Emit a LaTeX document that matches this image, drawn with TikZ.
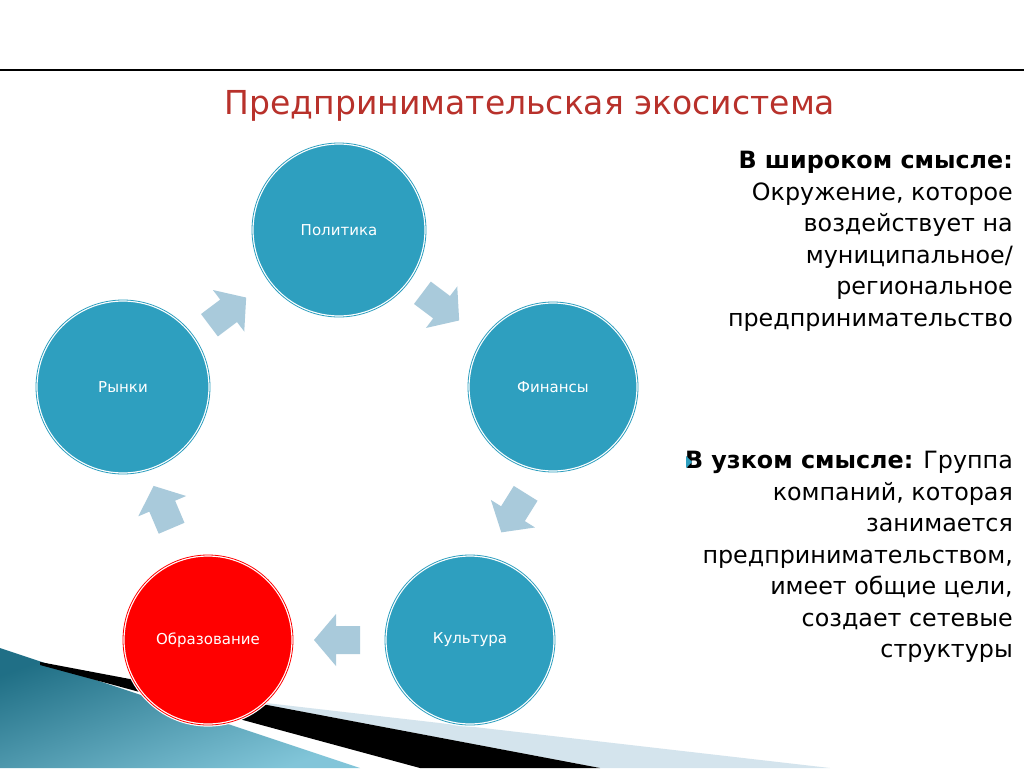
\documentclass[tikz,border=0pt]{standalone}
\usepackage{fontspec}
\setmainfont{DejaVu Sans}
\begin{document}
\begin{tikzpicture}[x=1pt,y=-1pt,
  circ/.style={circle,fill=cTeal,draw=white,line width=1.2pt,double=cTeal,double distance=0.8pt,text=white,font=\fontsize{15}{18}\selectfont,inner sep=0},
  barrow/.style={fill=cArrow,draw=none}]
\definecolor{cTeal}{HTML}{2E9FBF}
\definecolor{cArrow}{HTML}{A9CADB}
\definecolor{cTitle}{HTML}{B8312B}
\useasboundingbox (0,0) rectangle (1024,768);
\fill[white] (0,0) rectangle (1024,768);
% decoration
\shade[top color=cTeal!70!black,bottom color=cTeal!60!white,shading angle=20] (0,648) -- (360,768) -- (0,768) -- cycle;
\fill[cArrow!50!white] (240,700) -- (830,768) -- (600,768) -- cycle;
\fill[black] (40,662) -- (600,768) -- (420,768) -- (40,665) -- cycle;
\draw[line width=2.5pt] (0,70) -- (1024,70);
\node (title) at (530,106) {\fontsize{33}{38}\selectfont\color{cTitle}Предпринимательская экосистема};
% circles
\node[circ,minimum size=174pt] (pol) at (339,230) {Политика};
\node[circ,minimum size=170pt] (fin) at (553,387) {Финансы};
\node[circ,minimum size=170pt] (kul) at (470,640) {Культура};
\node[circ,minimum size=170pt,fill=red,double=red] (obr) at (208,640) {Образование};
\node[circ,minimum size=174pt] (ryn) at (123,387) {Рынки};
% block arrows
\foreach \p/\a in {{(227,312)}/37, {(440,306)}/-37, {(514,512)}/-122, {(338,640)}/180, {(163,508)}/113}{
  \fill[barrow,shift={\p},rotate=\a] (-22,-14) -- (2,-14) -- (2,-26) -- (24,0) -- (2,26) -- (2,14) -- (-22,14) -- cycle;
}
% right text
\node[anchor=north east,align=right,font=\fontsize{23.8}{31.5}\selectfont,inner sep=0] (t1) at (1013,151)
 {\textbf{В широком смысле:}\\Окружение, которое\\воздействует на\\муниципальное/\\региональное\\предпринимательство};
\node[anchor=north east,align=right,font=\fontsize{23.8}{31.5}\selectfont,inner sep=0] (t2) at (1013,451)
 {\textbf{В узком смысле:} Группа\\компаний, которая\\занимается\\предпринимательством,\\имеет общие цели,\\создает сетевые\\структуры};
\fill[cTeal] (686,456) -- (692,462) -- (686,468) -- cycle;
\end{tikzpicture}
\end{document}
